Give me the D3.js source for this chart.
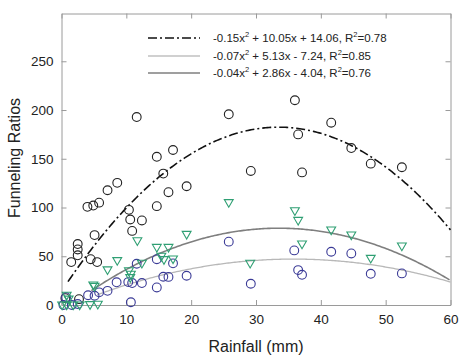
<!DOCTYPE html>
<html><head><meta charset="utf-8">
<script src="https://cdn.jsdelivr.net/npm/d3@7"></script>
<style>body{margin:0;background:#fff}svg{display:block}text{font-family:"Liberation Sans",Arial,sans-serif;fill:#222}</style>
</head><body><svg id="c" width="474" height="359"></svg>
<script>
// Series 1: black circles
const blackX = [1.5,2.5,2.5,2.5,4.5,5.5,2.7,0.6,4.0,4.9,5.8,7.1,8.6,5.1,10.4,10.6,10.9,12.4,14.7,14.7,15.7,16.5,17.2,19.3,29.2,36.5,37.1,41.6,44.7,47.7,52.5,11.6,25.8,36.0];
const blackY = [44,62.5,57,51,47,44,6,7,100.7,102,105,117.7,125.3,71.7,97.6,87.7,76,86.7,152,101.4,134.8,115.7,159,121.8,137.5,175,136,187,161,145,141.3,192.8,195.6,210];
// Series 2: blue circles
const blueX = [0.3,0.7,1.6,2.5,4.1,5.1,5.8,7.1,8.5,10.3,10.9,12.4,10.7,11.6,14.7,14.7,15.7,16.5,17.2,19.3,25.8,29.2,35.9,36.5,37.1,41.6,44.7,47.7,52.5];
const blueY = [0,8,0,1,10,9.5,13,14.5,23.3,23.5,22.5,22.5,2.8,42.3,47,18,29,28.8,42.7,30,65,21.8,56,35.8,31,54.6,52.9,32,32.4];
// Series 3: green triangles
const greenX = [0.1,0.8,1.8,2.8,4.4,5.6,0.8,1.1,4.9,5.1,7.1,8.6,10.4,10.7,10.6,12.4,11.7,14.7,16.5,15.4,15.8,17.2,19.3,25.8,29.1,36.0,36.5,37.1,41.6,44.7,47.7,52.5];
const greenY = [0,0,0,0,0.3,0.7,10,6,20.5,19,36,45.5,35,31.5,28,42.7,65.8,59,59,50,46.5,47.2,72.4,105,42.7,96.6,86.7,62.5,76.8,71.7,47.8,60.4];
// Fitted curves (coefficients a,b,c) and ranges
const fitBlack = [-0.15,10.05,14.06];
const fitDark = [-0.0765,5.13,-7.24];
const fitLight = [-0.04,2.86,-4.04];
const fitRanges = [[1,60],[4.6,60],[5.5,60]];
const legendTexts = [["-0.15x","2"," + 10.05x + 14.06, R","2","=0.78"],["-0.07x","2"," + 5.13x - 7.24, R","2","=0.85"],["-0.04x","2"," + 2.86x - 4.04, R","2","=0.76"]];
const xTicks = [0,10,20,30,40,50,60];
const yTicks = [0,50,100,150,200,250];

const svg = d3.select("#c");
const x = d3.scaleLinear().domain([0,60]).range([61.5,450.5]);
const y = d3.scaleLinear().domain([0,299]).range([305,13.5]);
const axisCol = "#9a9a9a";

// frame
const g = svg.append("g");
function styleAxis(sel){sel.select(".domain").attr("stroke",axisCol);sel.selectAll(".tick line").attr("stroke",axisCol);sel.selectAll("text").attr("fill","#222").style("font-size","13.5px").style("font-family",'"Liberation Sans",Arial,sans-serif');}
g.append("g").attr("transform","translate(0,305)").call(d3.axisBottom(x).tickValues(xTicks).tickSizeInner(-5).tickSizeOuter(0).tickPadding(9)).call(styleAxis);
g.append("g").attr("transform","translate(0,13.5)").call(d3.axisTop(x).tickValues(xTicks).tickSizeInner(-5).tickSizeOuter(0).tickFormat("")).call(styleAxis);
g.append("g").attr("transform","translate(61.5,0)").call(d3.axisLeft(y).tickValues(yTicks).tickSizeInner(-5).tickSizeOuter(0).tickPadding(8)).call(styleAxis);
g.append("g").attr("transform","translate(450.5,0)").call(d3.axisRight(y).tickValues(yTicks).tickSizeInner(-5).tickSizeOuter(0).tickFormat("")).call(styleAxis);
g.selectAll(".tick").filter(function(){return false;});

// curves
function curve(c,r){const pts=d3.range(r[0],r[1]+0.001,0.25).map(v=>[v,c[0]*v*v+c[1]*v+c[2]]);return d3.line().x(d=>x(d[0])).y(d=>y(d[1]))(pts);}
svg.append("path").attr("d",curve(fitLight,fitRanges[2])).attr("fill","none").attr("stroke","#b8b8b8").attr("stroke-width",1.3);
svg.append("path").attr("d",curve(fitDark,fitRanges[1])).attr("fill","none").attr("stroke","#7f7f7f").attr("stroke-width",1.6);
svg.append("path").attr("d",curve(fitBlack,fitRanges[0])).attr("fill","none").attr("stroke","#111").attr("stroke-width",1.6).attr("stroke-dasharray","9,3,2,3");

// points
const r=4.4;
svg.append("g").selectAll("circle").data(d3.zip(blackX,blackY)).join("circle").attr("cx",d=>x(d[0])).attr("cy",d=>y(d[1])).attr("r",r).attr("fill","none").attr("stroke","#222").attr("stroke-width",1.1);
svg.append("g").selectAll("circle").data(d3.zip(blueX,blueY)).join("circle").attr("cx",d=>x(d[0])).attr("cy",d=>y(d[1])).attr("r",r).attr("fill","none").attr("stroke","#3a3a96").attr("stroke-width",1.1);
const tri = d3.symbol().type(d3.symbolTriangle).size(34);
svg.append("g").selectAll("path").data(d3.zip(greenX,greenY)).join("path").attr("d",tri).attr("transform",d=>`translate(${x(d[0])},${y(d[1])-0.5}) rotate(180)`).attr("fill","none").attr("stroke","#2f9f73").attr("stroke-width",1.1);

// legend
const legY=[38,56,73];
const legStyles=[{c:"#111",w:1.6,d:"9,3,2,3"},{c:"#c0c0c0",w:1.3,d:null},{c:"#7f7f7f",w:1.6,d:null}];
legendTexts.forEach((t,i)=>{
  svg.append("line").attr("x1",148).attr("x2",200).attr("y1",legY[i]).attr("y2",legY[i]).attr("stroke",legStyles[i].c).attr("stroke-width",legStyles[i].w).attr("stroke-dasharray",legStyles[i].d);
  const tx=svg.append("text").attr("x",213).attr("y",legY[i]+4).style("font-size","11.5px");
  tx.append("tspan").text(t[0]);
  tx.append("tspan").attr("dy",-5).style("font-size","7.5px").text(t[1]);
  tx.append("tspan").attr("dy",5).text(t[2]);
  tx.append("tspan").attr("dy",-5).style("font-size","7.5px").text(t[3]);
  tx.append("tspan").attr("dy",5).text(t[4]);
});

// axis titles
svg.append("text").attr("x",256).attr("y",352).attr("text-anchor","middle").style("font-size","16px").text("Rainfall (mm)");
svg.append("text").attr("transform","translate(19.5,158) rotate(-90)").attr("text-anchor","middle").style("font-size","16px").text("Funneling Ratios");
</script></body></html>
